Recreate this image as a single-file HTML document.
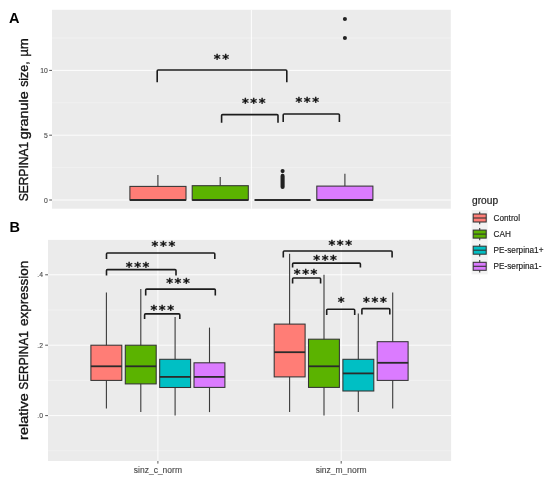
<!DOCTYPE html>
<html lang="en"><head><meta charset="utf-8"><title>SERPINA1 boxplots</title>
<style>html,body{margin:0;padding:0;background:#fff}body{width:550px;height:481px;overflow:hidden}svg{display:block;filter:blur(0.4px)}text{font-family:"Liberation Sans",sans-serif}.ax{font-size:6.8px;fill:#4a4a4a;stroke:#4a4a4a;stroke-width:0.12}.xl{font-size:8.5px;fill:#4d4d4d;stroke:#4d4d4d;stroke-width:0.15}.lg{font-size:8.2px;fill:#1a1a1a;stroke:#1a1a1a;stroke-width:0.15}.st{font-family:"DejaVu Sans",sans-serif;font-weight:bold;font-size:13px;fill:#111;stroke:#111;stroke-width:0.3;text-anchor:middle;letter-spacing:1.6px}.yt{font-size:13px;fill:#111;stroke:#111;stroke-width:0.35}.pl{font-size:14.5px;font-weight:bold;fill:#000}.br{fill:none;stroke:#1c1c1c;stroke-width:1.6;stroke-linejoin:round}.bx{stroke:#333;stroke-width:1.05}.wh{stroke:#3a3a3a;stroke-width:1.1}.md{stroke:#2b2b2b;stroke-width:1.8}.gM{stroke:#fff;stroke-width:0.9}.gm{stroke:#f6f6f6;stroke-width:0.5}</style></head><body>
<svg width="550" height="481" viewBox="0 0 550 481">
<rect width="550" height="481" fill="#fff"/>
<rect x="52.0" y="9.8" width="398.8" height="198.89999999999998" fill="#ebebeb"/>
<line class="gm" x1="52.0" x2="450.8" y1="167.6" y2="167.6"/>
<line class="gm" x1="52.0" x2="450.8" y1="102.8" y2="102.8"/>
<line class="gm" x1="52.0" x2="450.8" y1="38.0" y2="38.0"/>
<line class="gM" x1="52.0" x2="450.8" y1="200.0" y2="200.0"/>
<line class="gM" x1="52.0" x2="450.8" y1="135.2" y2="135.2"/>
<line class="gM" x1="52.0" x2="450.8" y1="70.4" y2="70.4"/>
<line class="gM" x1="251.4" x2="251.4" y1="9.8" y2="208.7"/>
<line x1="49.2" x2="52.0" y1="200.0" y2="200.0" stroke="#444" stroke-width="0.9"/>
<text class="ax" x="47.9" y="202.7" text-anchor="end">0</text>
<line x1="49.2" x2="52.0" y1="135.2" y2="135.2" stroke="#444" stroke-width="0.9"/>
<text class="ax" x="47.9" y="137.9" text-anchor="end">5</text>
<line x1="49.2" x2="52.0" y1="70.4" y2="70.4" stroke="#444" stroke-width="0.9"/>
<text class="ax" x="47.9" y="73.1" text-anchor="end">10</text>
<line class="wh" x1="157.9" x2="157.9" y1="175.0" y2="186.4"/>
<rect class="bx" x="129.9" y="186.4" width="56.1" height="13.6" fill="#FF7D76"/>
<line class="md" x1="129.9" x2="186.0" y1="200.0" y2="200.0"/>
<line class="wh" x1="220.2" x2="220.2" y1="176.9" y2="185.7"/>
<rect class="bx" x="192.2" y="185.7" width="56.1" height="14.3" fill="#5BB300"/>
<line class="md" x1="192.2" x2="248.3" y1="200.0" y2="200.0"/>
<line class="md" x1="254.5" x2="310.6" y1="200.0" y2="200.0"/>
<line x1="282.6" x2="282.6" y1="175.9" y2="187.0" stroke="#222" stroke-width="4.1" stroke-linecap="round"/>
<circle cx="282.6" cy="171.1" r="2.05" fill="#222"/>
<line class="wh" x1="344.9" x2="344.9" y1="173.7" y2="186.1"/>
<rect class="bx" x="316.8" y="186.1" width="56.1" height="13.9" fill="#DB7BFF"/>
<line class="md" x1="316.8" x2="372.9" y1="200.0" y2="200.0"/>
<circle cx="344.9" cy="19" r="2.05" fill="#222"/>
<circle cx="344.9" cy="38" r="2.05" fill="#222"/>
<path class="br" d="M157.2 82.3V71.0Q157.2 70 158.2 70H285.8Q286.8 70 286.8 71.0V82.3"/>
<text class="st" x="222.2" y="63.2">**</text>
<path class="br" d="M221.6 122.8V115.6Q221.6 114.6 222.6 114.6H277.0Q278 114.6 278 115.6V122.8"/>
<text class="st" x="254.5" y="106.7">***</text>
<path class="br" d="M283.2 122V115.0Q283.2 114 284.2 114H338.4Q339.4 114 339.4 115.0V122"/>
<text class="st" x="308.0" y="106.0">***</text>
<rect x="48.0" y="239.9" width="403.1" height="221.1" fill="#ebebeb"/>
<line class="gm" x1="48.0" x2="451.1" y1="450.8" y2="450.8"/>
<line class="gm" x1="48.0" x2="451.1" y1="380.4" y2="380.4"/>
<line class="gm" x1="48.0" x2="451.1" y1="310.0" y2="310.0"/>
<line class="gM" x1="48.0" x2="451.1" y1="415.6" y2="415.6"/>
<line class="gM" x1="48.0" x2="451.1" y1="345.2" y2="345.2"/>
<line class="gM" x1="48.0" x2="451.1" y1="274.8" y2="274.8"/>
<line class="gM" x1="157.9" x2="157.9" y1="239.9" y2="461.0"/>
<line x1="157.9" x2="157.9" y1="461.0" y2="463.6" stroke="#444" stroke-width="0.9"/>
<line class="gM" x1="341.2" x2="341.2" y1="239.9" y2="461.0"/>
<line x1="341.2" x2="341.2" y1="461.0" y2="463.6" stroke="#444" stroke-width="0.9"/>
<clipPath id="cl"><rect x="36.9" y="230" width="20" height="240"/></clipPath>
<line x1="45.2" x2="48.0" y1="415.6" y2="415.6" stroke="#444" stroke-width="0.9"/>
<text class="ax" clip-path="url(#cl)" x="43.0" y="418.2" text-anchor="end">0.0</text>
<line x1="45.2" x2="48.0" y1="345.2" y2="345.2" stroke="#444" stroke-width="0.9"/>
<text class="ax" clip-path="url(#cl)" x="43.0" y="347.8" text-anchor="end">0.2</text>
<line x1="45.2" x2="48.0" y1="274.8" y2="274.8" stroke="#444" stroke-width="0.9"/>
<text class="ax" clip-path="url(#cl)" x="43.0" y="277.4" text-anchor="end">0.4</text>
<text class="xl" x="157.9" y="472.8" text-anchor="middle">sinz_c_norm</text>
<text class="xl" x="341.2" y="472.8" text-anchor="middle">sinz_m_norm</text>
<line class="wh" x1="106.4" x2="106.4" y1="292.4" y2="408.6"/>
<rect class="bx" x="90.9" y="345.2" width="30.9" height="35.2" fill="#FF7D76"/>
<line class="md" x1="90.9" x2="121.9" y1="366.3" y2="366.3"/>
<line class="wh" x1="140.8" x2="140.8" y1="288.9" y2="412.1"/>
<rect class="bx" x="125.3" y="345.2" width="30.9" height="38.7" fill="#5BB300"/>
<line class="md" x1="125.3" x2="156.2" y1="366.3" y2="366.3"/>
<line class="wh" x1="175.1" x2="175.1" y1="317.0" y2="415.6"/>
<rect class="bx" x="159.7" y="359.3" width="30.9" height="28.2" fill="#00BFC4"/>
<line class="md" x1="159.7" x2="190.6" y1="376.9" y2="376.9"/>
<line class="wh" x1="209.5" x2="209.5" y1="327.6" y2="412.1"/>
<rect class="bx" x="194.0" y="362.8" width="30.9" height="24.6" fill="#DB7BFF"/>
<line class="md" x1="194.0" x2="224.9" y1="376.9" y2="376.9"/>
<line class="wh" x1="289.6" x2="289.6" y1="253.7" y2="412.1"/>
<rect class="bx" x="274.2" y="324.1" width="30.9" height="52.8" fill="#FF7D76"/>
<line class="md" x1="274.2" x2="305.1" y1="352.2" y2="352.2"/>
<line class="wh" x1="324.0" x2="324.0" y1="274.8" y2="415.6"/>
<rect class="bx" x="308.5" y="339.2" width="30.9" height="48.2" fill="#5BB300"/>
<line class="md" x1="308.5" x2="339.4" y1="366.3" y2="366.3"/>
<line class="wh" x1="358.3" x2="358.3" y1="313.5" y2="412.1"/>
<rect class="bx" x="342.9" y="359.3" width="30.9" height="31.7" fill="#00BFC4"/>
<line class="md" x1="342.9" x2="373.8" y1="373.4" y2="373.4"/>
<line class="wh" x1="392.7" x2="392.7" y1="292.4" y2="408.6"/>
<rect class="bx" x="377.2" y="341.7" width="30.9" height="38.7" fill="#DB7BFF"/>
<line class="md" x1="377.2" x2="408.2" y1="362.8" y2="362.8"/>
<path class="br" d="M106.5 259V254.0Q106.5 253 107.5 253H213.8Q214.8 253 214.8 254.0V259"/>
<text class="st" x="164.2" y="249.8">***</text>
<path class="br" d="M106.5 275.4V270.6Q106.5 269.6 107.5 269.6H175.0Q176 269.6 176 270.6V275.4"/>
<text class="st" x="138.4" y="270.5">***</text>
<path class="br" d="M145.7 295.5V290.1Q145.7 289.1 146.7 289.1H214.3Q215.3 289.1 215.3 290.1V295.5"/>
<text class="st" x="178.8" y="287.3">***</text>
<path class="br" d="M144.6 318.9V314.9Q144.6 313.9 145.6 313.9H178.8Q179.8 313.9 179.8 314.9V318.9"/>
<text class="st" x="163.0" y="313.8">***</text>
<path class="br" d="M283.3 257.4V252.0Q283.3 251 284.3 251H391.1Q392.1 251 392.1 252.0V257.4"/>
<text class="st" x="341.0" y="249.0">***</text>
<path class="br" d="M292.6 267.4V264.1Q292.6 263.1 293.6 263.1H359.4Q360.4 263.1 360.4 264.1V267.4"/>
<text class="st" x="325.9" y="264.1">***</text>
<path class="br" d="M292.6 283.6V279.0Q292.6 278 293.6 278H319.6Q320.6 278 320.6 279.0V283.6"/>
<text class="st" x="306.4" y="278.1">***</text>
<path class="br" d="M326.7 315V310.2Q326.7 309.2 327.7 309.2H353.7Q354.7 309.2 354.7 310.2V315"/>
<text class="st" x="342.0" y="306.0">*</text>
<path class="br" d="M361.9 314.6V309.6Q361.9 308.6 362.9 308.6H388.8Q389.8 308.6 389.8 309.6V314.6"/>
<text class="st" x="375.7" y="306.2">***</text>
<text class="pl" x="9" y="23.2">A</text>
<text class="pl" x="9.4" y="232">B</text>
<text class="yt" transform="translate(27.9,201.20) rotate(-90)" textLength="59.30" lengthAdjust="spacingAndGlyphs">SERPINA1</text>
<text class="yt" transform="translate(27.9,139.35) rotate(-90)" textLength="48.20" lengthAdjust="spacingAndGlyphs">granule</text>
<text class="yt" transform="translate(27.9,86.85) rotate(-90)" textLength="25.45" lengthAdjust="spacingAndGlyphs">size,</text>
<text class="yt" transform="translate(27.9,56.85) rotate(-90)" textLength="18.70" lengthAdjust="spacingAndGlyphs">µm</text>
<text class="yt" transform="translate(28.3,439.90) rotate(-90)" textLength="46.60" lengthAdjust="spacingAndGlyphs">relative</text>
<text class="yt" transform="translate(28.3,389.70) rotate(-90)" textLength="58.60" lengthAdjust="spacingAndGlyphs">SERPINA1</text>
<text class="yt" transform="translate(28.3,326.10) rotate(-90)" textLength="65.30" lengthAdjust="spacingAndGlyphs">expression</text>
<text x="472" y="203.5" font-size="10.2" fill="#1a1a1a" stroke="#1a1a1a" stroke-width="0.2">group</text>
<rect x="471.6" y="210.0" width="16.1" height="16.1" fill="#f2f2f2"/>
<line class="wh" x1="479.7" x2="479.7" y1="211.8" y2="224.2"/>
<rect class="bx" x="473.2" y="214.0" width="13" height="8" fill="#FF7D76"/>
<line x1="473.2" x2="486.2" y1="218.0" y2="218.0" stroke="#333" stroke-width="1.1"/>
<text class="lg" x="493.6" y="220.7">Control</text>
<rect x="471.6" y="226.1" width="16.1" height="16.1" fill="#f2f2f2"/>
<line class="wh" x1="479.7" x2="479.7" y1="227.9" y2="240.3"/>
<rect class="bx" x="473.2" y="230.1" width="13" height="8" fill="#5BB300"/>
<line x1="473.2" x2="486.2" y1="234.1" y2="234.1" stroke="#333" stroke-width="1.1"/>
<text class="lg" x="493.6" y="236.8">CAH</text>
<rect x="471.6" y="242.2" width="16.1" height="16.1" fill="#f2f2f2"/>
<line class="wh" x1="479.7" x2="479.7" y1="244.0" y2="256.4"/>
<rect class="bx" x="473.2" y="246.2" width="13" height="8" fill="#00BFC4"/>
<line x1="473.2" x2="486.2" y1="250.2" y2="250.2" stroke="#333" stroke-width="1.1"/>
<text class="lg" x="493.6" y="252.9">PE-serpina1+</text>
<rect x="471.6" y="258.3" width="16.1" height="16.1" fill="#f2f2f2"/>
<line class="wh" x1="479.7" x2="479.7" y1="260.1" y2="272.5"/>
<rect class="bx" x="473.2" y="262.3" width="13" height="8" fill="#DB7BFF"/>
<line x1="473.2" x2="486.2" y1="266.3" y2="266.3" stroke="#333" stroke-width="1.1"/>
<text class="lg" x="493.6" y="269.0">PE-serpina1-</text>
</svg></body></html>
